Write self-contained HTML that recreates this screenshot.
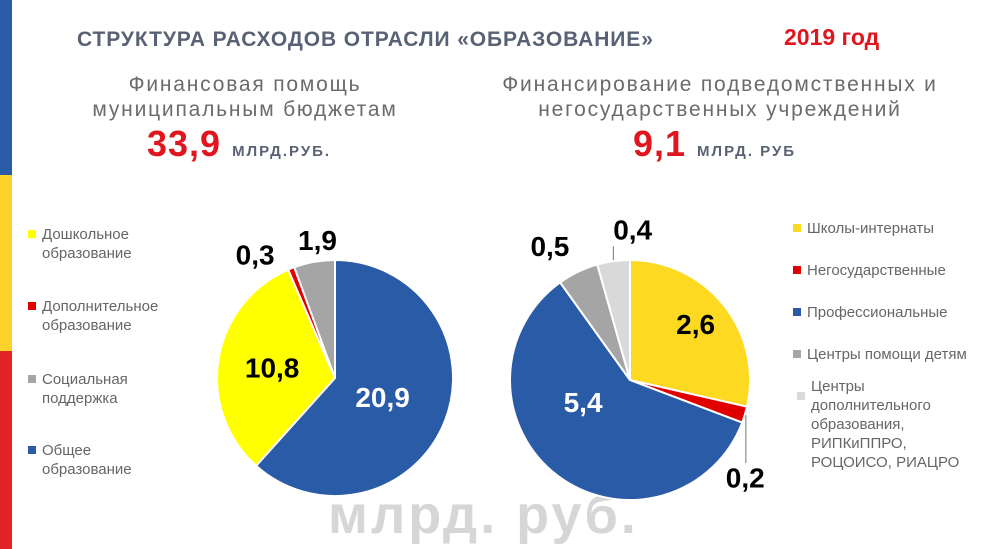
<!DOCTYPE html>
<html><head><meta charset="utf-8"><style>
body{margin:0;width:985px;height:549px;overflow:hidden;background:#fff;font-family:"Liberation Sans","DejaVu Sans",sans-serif;position:relative}
.a{position:absolute}
.sub{color:#6b6b6b;font-size:21px;letter-spacing:1.8px;text-align:center;line-height:25px}
.leg{position:absolute;font-size:15px;color:#666;line-height:19px;padding-left:14px}
.leg i{position:absolute;left:0;top:5px;width:8px;height:8px}
</style></head><body>
<div class="a" style="left:0;top:0;width:12px;height:175px;background:#2a5ba6"></div>
<div class="a" style="left:0;top:175px;width:12px;height:176px;background:#fdd22a"></div>
<div class="a" style="left:0;top:351px;width:12px;height:198px;background:#e32427"></div>
<div class="a" style="left:77px;top:28px;font-size:21px;font-weight:bold;color:#596275;letter-spacing:0.9px">СТРУКТУРА РАСХОДОВ ОТРАСЛИ «ОБРАЗОВАНИЕ»</div>
<div class="a" style="left:784px;top:24px;font-size:23px;font-weight:bold;color:#e0161e">2019 год</div>
<div class="a sub" style="left:60px;width:370px;top:72px">Финансовая помощь<br>муниципальным бюджетам</div>
<div class="a sub" style="left:480px;width:480px;top:72px">Финансирование подведомственных и<br>негосударственных учреждений</div>
<div class="a" style="left:147px;top:123px;color:#e0161e;font-weight:bold;font-size:36px;letter-spacing:1px">33,9 <span style="font-size:15px;color:#596275;letter-spacing:2px">МЛРД.РУБ.</span></div>
<div class="a" style="left:633px;top:123px;color:#e0161e;font-weight:bold;font-size:36px;letter-spacing:1px">9,1 <span style="font-size:15px;color:#596275;letter-spacing:2px">МЛРД. РУБ</span></div>
<div class="leg" style="left:28px;top:225px"><i style="background:#ffff00"></i>Дошкольное<br>образование</div>
<div class="leg" style="left:28px;top:297px"><i style="background:#e00000"></i>Дополнительное<br>образование</div>
<div class="leg" style="left:28px;top:370px"><i style="background:#a5a5a5"></i>Социальная<br>поддержка</div>
<div class="leg" style="left:28px;top:441px"><i style="background:#2a5ba6"></i>Общее<br>образование</div>
<div class="leg" style="left:793px;top:219px"><i style="background:#fdd922"></i>Школы-интернаты</div>
<div class="leg" style="left:793px;top:261px"><i style="background:#e00000"></i>Негосударственные</div>
<div class="leg" style="left:793px;top:303px"><i style="background:#2a5ba6"></i>Профессиональные</div>
<div class="leg" style="left:793px;top:345px"><i style="background:#a5a5a5"></i>Центры помощи детям</div>
<div class="leg" style="left:797px;top:377px;padding-left:14px"><i style="background:#d9d9d9;top:15px"></i>Центры<br>дополнительного<br>образования,<br>РИПКиППРО,<br>РОЦОИСО, РИАЦРО</div>
<div class="a" style="left:328px;top:484px;font-size:54px;font-weight:bold;color:#d6d6d6;letter-spacing:3px">млрд. руб.</div>
<svg class="a" style="left:0;top:0" width="985" height="549" id="svg"></svg>
<script>
const leftValues=[20.9,10.8,0.3,1.9];
const leftLabels=["20,9","10,8","0,3","1,9"];
const leftColors=["#2a5ba6","#ffff00","#e00000","#a5a5a5"];
const rightValues=[2.6,0.2,5.4,0.5,0.4];
const rightLabels=["2,6","0,2","5,4","0,5","0,4"];
const rightColors=["#fdd922","#e00000","#2a5ba6","#a5a5a5","#d9d9d9"];
const NS="http://www.w3.org/2000/svg";
const svg=document.getElementById('svg');
function pt(cx,cy,r,a){return [cx+r*Math.sin(a),cy-r*Math.cos(a)];}
function pie(vals,labs,cols,cx,cy,r,name,lblPos){
  const tot=vals.reduce((a,b)=>a+b,0);let a0=0;
  vals.forEach((v,i)=>{
    const a1=a0+v/tot*2*Math.PI;
    const p0=pt(cx,cy,r,a0),p1=pt(cx,cy,r,a1);
    const p=document.createElementNS(NS,'path');
    p.setAttribute('d',`M${cx},${cy}L${p0[0]},${p0[1]}A${r},${r} 0 ${a1-a0>Math.PI?1:0} 1 ${p1[0]},${p1[1]}Z`);
    p.setAttribute('fill',cols[i]);p.setAttribute('stroke','#fff');p.setAttribute('stroke-width','2');
    
    
    svg.appendChild(p);
    const am=(a0+a1)/2;const lp=lblPos[i];
    let q;
    if(lp.out){q=pt(cx,cy,r+lp.out,am);
      if(lp.vl){
        const e=pt(cx,cy,r+1,am),l=document.createElementNS(NS,'line');
        l.setAttribute('x1',e[0]);l.setAttribute('y1',e[1]);l.setAttribute('x2',e[0]);l.setAttribute('y2',e[1]+lp.vl);
        l.setAttribute('stroke','#777');l.setAttribute('stroke-width','1');
        
        
        svg.appendChild(l);
      }
    } else q=pt(cx,cy,r*lp.in,am);
    const t=document.createElementNS(NS,'text');
    t.setAttribute('x',q[0]+(lp.dx||0));t.setAttribute('y',q[1]+10+(lp.dy||0));
    t.setAttribute('text-anchor','middle');t.setAttribute('font-size','28');t.setAttribute('font-weight','bold');
    t.setAttribute('font-family','Liberation Sans, sans-serif');t.setAttribute('fill',lp.c||'#000');
    t.textContent=labs[i];
    
    
    svg.appendChild(t);
    a0=a1;
  });
}
pie(leftValues,leftLabels,leftColors,335,378,118,'left-pie',[{in:0.55,c:'#fff',dx:-13,dy:-4},{in:0.6,dx:7,dy:1},{out:30,dx:-25,dy:14},{out:22,dx:7,dy:0}]);
pie(rightValues,rightLabels,rightColors,630,380,120,'right-pie',[{in:0.55,dx:14,dy:-15},{out:38,dx:-36,dy:52,vl:48},{in:0.6,c:'#fff',dx:-3,dy:-35},{out:30,dx:-15,dy:1},{out:35,dx:24,dy:3,vl:-14}]);
</script>
</body></html>
